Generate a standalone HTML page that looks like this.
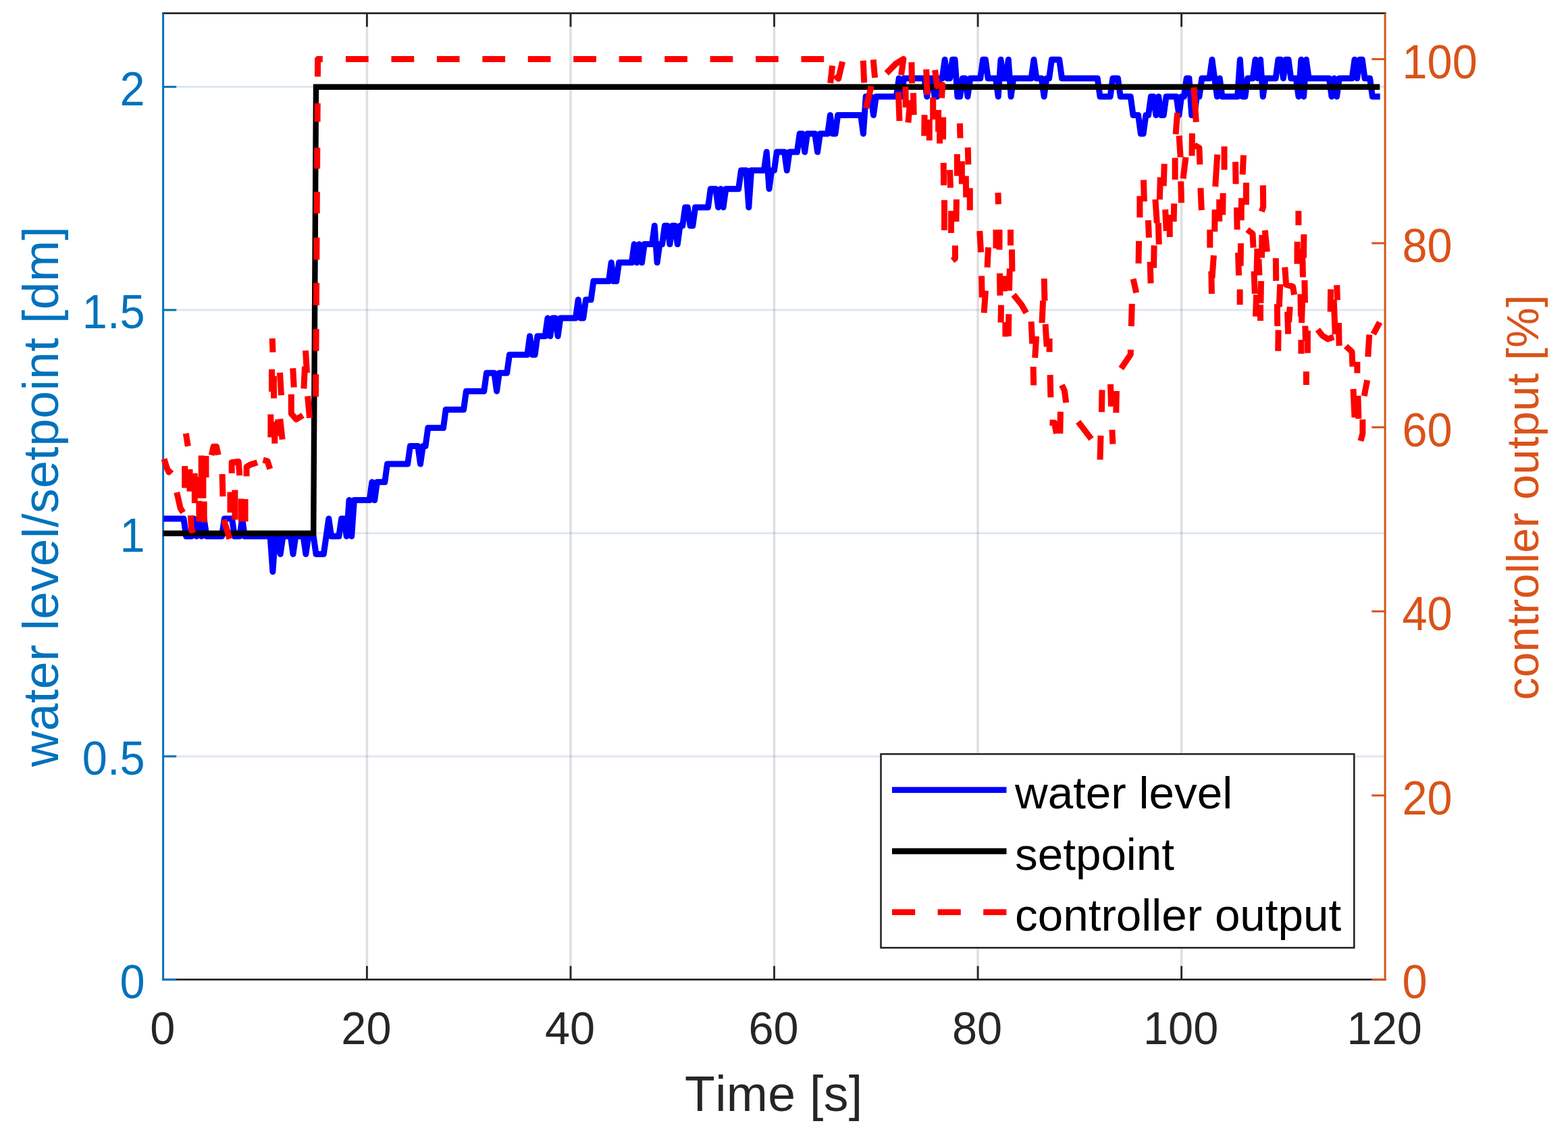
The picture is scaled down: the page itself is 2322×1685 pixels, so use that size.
<!DOCTYPE html>
<html lang="en"><head><meta charset="utf-8"><title>Water level control</title>
<style>html,body{margin:0;padding:0;background:#fff;}body{width:2322px;height:1685px;overflow:hidden;}svg{display:block;}text{font-family:"Liberation Sans",sans-serif;font-kerning:none;}</style></head><body>
<svg width="2322" height="1685" viewBox="0 0 2322 1685">
<rect width="2322" height="1685" fill="#fff"/>
<g stroke="#262626" stroke-opacity="0.14" stroke-width="3.5">
<line x1="543.4" y1="19.7" x2="543.4" y2="1450.3"/>
<line x1="845.0" y1="19.7" x2="845.0" y2="1450.3"/>
<line x1="1146.5" y1="19.7" x2="1146.5" y2="1450.3"/>
<line x1="1448.1" y1="19.7" x2="1448.1" y2="1450.3"/>
<line x1="1749.6" y1="19.7" x2="1749.6" y2="1450.3"/>
</g>
<g stroke="#165a9e" stroke-opacity="0.14" stroke-width="3.0">
<line x1="241.9" y1="1119.9" x2="2051.2" y2="1119.9"/>
<line x1="241.9" y1="789.4" x2="2051.2" y2="789.4"/>
<line x1="241.9" y1="459.0" x2="2051.2" y2="459.0"/>
<line x1="241.9" y1="128.6" x2="2051.2" y2="128.6"/>
</g>
<g stroke="#262626" stroke-width="2.8" fill="none">
<line x1="240.1" y1="19.7" x2="2052.6" y2="19.7"/>
<line x1="240.1" y1="1450.3" x2="2052.6" y2="1450.3"/>
<line x1="543.4" y1="1450.3" x2="543.4" y2="1430.3"/>
<line x1="543.4" y1="19.7" x2="543.4" y2="39.7"/>
<line x1="845.0" y1="1450.3" x2="845.0" y2="1430.3"/>
<line x1="845.0" y1="19.7" x2="845.0" y2="39.7"/>
<line x1="1146.5" y1="1450.3" x2="1146.5" y2="1430.3"/>
<line x1="1146.5" y1="19.7" x2="1146.5" y2="39.7"/>
<line x1="1448.1" y1="1450.3" x2="1448.1" y2="1430.3"/>
<line x1="1448.1" y1="19.7" x2="1448.1" y2="39.7"/>
<line x1="1749.6" y1="1450.3" x2="1749.6" y2="1430.3"/>
<line x1="1749.6" y1="19.7" x2="1749.6" y2="39.7"/>
</g>
<g stroke="#0072BD" stroke-width="3" fill="none">
<line x1="241.6" y1="19.7" x2="241.6" y2="1451.7"/>
<line x1="241.6" y1="1450.3" x2="261.2" y2="1450.3"/>
<line x1="241.6" y1="1119.9" x2="261.2" y2="1119.9"/>
<line x1="241.6" y1="789.4" x2="261.2" y2="789.4"/>
<line x1="241.6" y1="459.0" x2="261.2" y2="459.0"/>
<line x1="241.6" y1="128.6" x2="261.2" y2="128.6"/>
</g>
<g stroke="#D95319" stroke-width="3" fill="none">
<line x1="2051.1" y1="19.7" x2="2051.1" y2="1451.7"/>
<line x1="2051.1" y1="1450.3" x2="2031.3" y2="1450.3"/>
<line x1="2051.1" y1="1177.8" x2="2031.3" y2="1177.8"/>
<line x1="2051.1" y1="905.2" x2="2031.3" y2="905.2"/>
<line x1="2051.1" y1="632.7" x2="2031.3" y2="632.7"/>
<line x1="2051.1" y1="360.1" x2="2031.3" y2="360.1"/>
<line x1="2051.1" y1="87.6" x2="2031.3" y2="87.6"/>
</g>
<g fill="none" stroke-linejoin="round" stroke-width="9">
<path d="M241.8 768.0 L245.6 768.0 L249.3 768.0 L253.1 768.0 L256.9 768.0 L260.6 768.0 L264.4 768.0 L268.2 768.0 L272.0 768.0 L275.7 794.0 L279.5 794.0 L283.3 794.0 L287.0 768.0 L290.8 794.0 L294.6 768.0 L298.3 794.0 L302.1 768.0 L305.9 794.0 L309.7 794.0 L313.4 794.0 L317.2 794.0 L321.0 794.0 L324.7 794.0 L328.5 794.0 L332.3 768.0 L336.0 768.0 L339.8 768.0 L343.6 768.0 L347.3 794.0 L351.1 794.0 L354.9 794.0 L358.7 768.0 L362.4 794.0 L366.2 794.0 L370.0 794.0 L373.7 794.0 L377.5 794.0 L381.3 794.0 L385.0 794.0 L388.8 794.0 L392.6 794.0 L396.4 794.0 L400.1 794.0 L403.9 846.5 L407.7 794.0 L411.4 794.0 L415.2 820.4 L419.0 794.0 L422.7 794.0 L426.5 794.0 L430.3 794.0 L434.0 820.4 L437.8 794.0 L441.6 794.0 L445.4 794.0 L449.1 794.0 L452.9 820.4 L456.7 794.0 L460.4 794.0 L464.2 794.0 L468.0 820.4 L471.7 820.4 L475.5 820.4 L479.3 820.4 L483.1 794.0 L486.8 768.0 L490.6 794.0 L494.4 794.0 L498.1 794.0 L501.9 794.0 L505.7 768.0 L509.4 768.0 L513.2 794.0 L517.0 740.6 L520.7 794.0 L524.5 740.6 L528.3 740.6 L532.1 740.6 L535.8 740.6 L539.6 740.6 L543.4 740.6 L547.1 740.6 L550.9 713.8 L554.7 740.6 L558.4 713.8 L562.2 713.8 L566.0 713.8 L569.8 713.8 L573.5 687.0 L577.3 687.0 L581.1 687.0 L584.8 687.0 L588.6 687.0 L592.4 687.0 L596.1 687.0 L599.9 687.0 L603.7 687.0 L607.4 660.5 L611.2 660.5 L615.0 660.5 L618.8 660.5 L622.5 687.0 L626.3 660.5 L630.1 660.5 L633.8 633.6 L637.6 633.6 L641.4 633.6 L645.1 633.6 L648.9 633.6 L652.7 633.6 L656.5 633.6 L660.2 606.4 L664.0 606.4 L667.8 606.4 L671.5 606.4 L675.3 606.4 L679.1 606.4 L682.8 606.4 L686.6 606.4 L690.4 579.2 L694.2 579.2 L697.9 579.2 L701.7 579.2 L705.5 579.2 L709.2 579.2 L713.0 579.2 L716.8 579.2 L720.5 552.2 L724.3 552.2 L728.1 552.2 L731.8 552.2 L735.6 579.2 L739.4 552.2 L743.2 552.2 L746.9 552.2 L750.7 552.2 L754.5 525.2 L758.2 525.2 L762.0 525.2 L765.8 525.2 L769.5 525.2 L773.3 525.2 L777.1 525.2 L780.9 525.2 L784.6 497.7 L788.4 525.2 L792.2 525.2 L795.9 497.7 L799.7 497.7 L803.5 497.7 L807.2 497.7 L811.0 471.0 L814.8 497.7 L818.5 471.0 L822.3 471.0 L826.1 497.7 L829.9 471.0 L833.6 471.0 L837.4 471.0 L841.2 471.0 L844.9 471.0 L848.7 471.0 L852.5 471.0 L856.2 443.8 L860.0 471.0 L863.8 471.0 L867.6 443.8 L871.3 443.8 L875.1 443.8 L878.9 416.3 L882.6 416.3 L886.4 416.3 L890.2 416.3 L893.9 416.3 L897.7 416.3 L901.5 416.3 L905.2 388.8 L909.0 416.3 L912.8 416.3 L916.6 388.8 L920.3 388.8 L924.1 388.8 L927.9 388.8 L931.6 388.8 L935.4 388.8 L939.2 361.6 L942.9 388.8 L946.7 361.6 L950.5 388.8 L954.3 361.6 L958.0 361.6 L961.8 361.6 L965.6 361.6 L969.3 334.2 L973.1 388.8 L976.9 361.6 L980.6 361.6 L984.4 334.2 L988.2 334.2 L991.9 361.6 L995.7 334.2 L999.5 334.2 L1003.3 361.6 L1007.0 334.2 L1010.8 334.2 L1014.6 307.0 L1018.3 307.0 L1022.1 334.2 L1025.9 334.2 L1029.6 307.0 L1033.4 307.0 L1037.2 307.0 L1041.0 307.0 L1044.7 307.0 L1048.5 307.0 L1052.3 279.7 L1056.0 279.7 L1059.8 279.7 L1063.6 307.0 L1067.3 279.7 L1071.1 307.0 L1074.9 279.7 L1078.6 279.7 L1082.4 279.7 L1086.2 279.7 L1090.0 279.7 L1093.7 279.7 L1097.5 252.3 L1101.3 252.3 L1105.0 252.3 L1108.8 307.0 L1112.6 252.3 L1116.3 252.3 L1120.1 252.3 L1123.9 252.3 L1127.7 252.3 L1131.4 252.3 L1135.2 225.0 L1139.0 279.7 L1142.7 252.3 L1146.5 252.3 L1150.3 225.0 L1154.0 225.0 L1157.8 225.0 L1161.6 225.0 L1165.3 252.3 L1169.1 225.0 L1172.9 225.0 L1176.7 225.0 L1180.4 225.0 L1184.2 198.0 L1188.0 198.0 L1191.7 225.0 L1195.5 198.0 L1199.3 198.0 L1203.0 198.0 L1206.8 198.0 L1210.6 225.0 L1214.4 198.0 L1218.1 198.0 L1221.9 198.0 L1225.7 198.0 L1229.4 170.5 L1233.2 198.0 L1237.0 198.0 L1240.7 170.5 L1244.5 170.5 L1248.3 170.5 L1252.0 170.5 L1255.8 170.5 L1259.6 170.5 L1263.4 170.5 L1267.1 170.5 L1270.9 170.5 L1274.7 170.5 L1278.4 198.0 L1282.2 143.0 L1286.0 143.0 L1289.7 143.0 L1293.5 170.5 L1297.3 143.0 L1301.1 143.0 L1304.8 143.0 L1308.6 143.0 L1312.4 143.0 L1316.1 143.0 L1319.9 143.0 L1323.7 143.0 L1327.4 143.0 L1331.2 115.9 L1335.0 143.0 L1338.7 115.9 L1342.5 115.9 L1346.3 115.9 L1350.1 115.9 L1353.8 115.9 L1357.6 115.9 L1361.4 115.9 L1365.1 115.9 L1368.9 115.9 L1372.7 143.0 L1376.4 115.9 L1380.2 115.9 L1384.0 143.0 L1387.8 143.0 L1391.5 115.9 L1395.3 115.9 L1399.1 88.3 L1402.8 115.9 L1406.6 115.9 L1410.4 88.3 L1414.1 88.3 L1417.9 143.0 L1421.7 143.0 L1425.4 115.9 L1429.2 115.9 L1433.0 143.0 L1436.8 115.9 L1440.5 115.9 L1444.3 115.9 L1448.1 115.9 L1451.8 115.9 L1455.6 88.3 L1459.4 88.3 L1463.1 115.9 L1466.9 115.9 L1470.7 115.9 L1474.5 115.9 L1478.2 143.0 L1482.0 88.3 L1485.8 115.9 L1489.5 115.9 L1493.3 88.3 L1497.1 143.0 L1500.8 115.9 L1504.6 115.9 L1508.4 115.9 L1512.1 115.9 L1515.9 115.9 L1519.7 115.9 L1523.5 115.9 L1527.2 115.9 L1531.0 88.3 L1534.8 115.9 L1538.5 115.9 L1542.3 115.9 L1546.1 143.0 L1549.8 115.9 L1553.6 115.9 L1557.4 88.3 L1561.2 88.3 L1564.9 88.3 L1568.7 88.3 L1572.5 115.9 L1576.2 115.9 L1580.0 115.9 L1583.8 115.9 L1587.5 115.9 L1591.3 115.9 L1595.1 115.9 L1598.9 115.9 L1602.6 115.9 L1606.4 115.9 L1610.2 115.9 L1613.9 115.9 L1617.7 115.9 L1621.5 115.9 L1625.2 115.9 L1629.0 143.0 L1632.8 143.0 L1636.5 143.0 L1640.3 143.0 L1644.1 143.0 L1647.9 115.9 L1651.6 115.9 L1655.4 115.9 L1659.2 143.0 L1662.9 143.0 L1666.7 143.0 L1670.5 143.0 L1674.2 143.0 L1678.0 170.5 L1681.8 170.5 L1685.6 170.5 L1689.3 198.0 L1693.1 198.0 L1696.9 170.5 L1700.6 170.5 L1704.4 143.0 L1708.2 143.0 L1711.9 170.5 L1715.7 143.0 L1719.5 170.5 L1723.2 170.5 L1727.0 143.0 L1730.8 143.0 L1734.6 143.0 L1738.3 143.0 L1742.1 143.0 L1745.9 170.5 L1749.6 143.0 L1753.4 143.0 L1757.2 115.9 L1760.9 115.9 L1764.7 170.5 L1768.5 170.5 L1772.3 143.0 L1776.0 143.0 L1779.8 115.9 L1783.6 115.9 L1787.3 115.9 L1791.1 115.9 L1794.9 88.3 L1798.6 115.9 L1802.4 143.0 L1806.2 115.9 L1809.9 143.0 L1813.7 143.0 L1817.5 143.0 L1821.3 143.0 L1825.0 143.0 L1828.8 143.0 L1832.6 143.0 L1836.3 88.3 L1840.1 143.0 L1843.9 143.0 L1847.6 115.9 L1851.4 115.9 L1855.2 115.9 L1859.0 88.3 L1862.7 115.9 L1866.5 88.3 L1870.3 143.0 L1874.0 115.9 L1877.8 115.9 L1881.6 115.9 L1885.3 115.9 L1889.1 115.9 L1892.9 88.3 L1896.6 88.3 L1900.4 115.9 L1904.2 88.3 L1908.0 88.3 L1911.7 115.9 L1915.5 115.9 L1919.3 115.9 L1923.0 143.0 L1926.8 88.3 L1930.6 143.0 L1934.3 88.3 L1938.1 115.9 L1941.9 115.9 L1945.7 115.9 L1949.4 115.9 L1953.2 115.9 L1957.0 115.9 L1960.7 115.9 L1964.5 115.9 L1968.3 115.9 L1972.0 143.0 L1975.8 115.9 L1979.6 143.0 L1983.3 115.9 L1987.1 115.9 L1990.9 115.9 L1994.7 115.9 L1998.4 115.9 L2002.2 115.9 L2006.0 88.3 L2009.7 115.9 L2013.5 88.3 L2017.3 88.3 L2021.0 115.9 L2024.8 115.9 L2028.6 115.9 L2032.4 143.0 L2036.1 143.0 L2039.9 143.0 L2043.7 143.0" stroke="#0000ff"/>
<path d="M241.5 789.7 L464.2 789.7 L468.0 128.8 L2043.3 128.8" stroke="#000000" stroke-linejoin="miter" stroke-width="8.4"/>
<path d="M243.0 679.5 L246.6 691.4 L249.9 699.1 L253.8 694.7 M275.3 641.7 L278.3 660.7 M313.2 673.9 L316.1 661.2 L320.5 661.2 L323.2 673.6 M273.7 690.1 L273.7 722.5 M281.0 694.7 L281.0 727.8 M288.3 700.7 L288.3 745.0 M296.2 706.0 L296.2 737.7 M300.9 706.0 L300.9 737.7 M298.2 674.4 L298.2 707.3 M305.0 675.0 L305.0 707.0 M294.9 741.7 L294.9 772.2 M302.2 742.4 L302.2 773.5 M261.8 729.1 L267.1 752.3 L271.1 758.9 M329.1 702.0 L330.0 735.1 M341.0 728.5 L341.0 758.9 M347.9 725.6 L347.9 769.5 M357.2 738.4 L357.2 772.2 M363.1 739.1 L363.1 772.2 M343.2 700.7 L343.2 684.8 L353.2 683.4 L354.8 704.0 M365.1 705.3 L365.1 691.4 L370.4 688.1 L381.0 684.8 M389.6 681.1 L396.2 682.8 L399.8 694.3 M282.3 763.2 L283.6 785.4 L288.3 783.4 M331.3 769.5 L336.0 784.1 L339.9 798.0 M403.2 501.1 L404.0 521.6 M402.5 546.8 L402.5 579.9 M405.5 556.7 L405.5 589.8 M414.5 551.7 L416.5 585.2 M433.7 545.2 L435.3 573.6 M452.5 518.9 L454.5 552.1 M451.5 542.8 L449.9 575.5 M431.3 583.8 L431.3 612.3 L438.6 620.9 L448.5 615.0 M455.6 586.5 L458.5 618.9 M400.9 613.6 L400.9 647.4 M406.8 624.2 L406.8 656.7 M414.8 620.3 L418.1 650.7 M411.7 620.9 L412.5 645.4 M470.2 153.0 L470.0 180.4 M469.8 218.7 L469.6 249.6 M469.4 284.0 L469.2 316.0 M469.0 351.7 L468.8 384.5 M468.6 419.0 L468.4 452.0 M468.2 487.2 L468.0 519.6 M467.8 554.3 L467.6 587.4 M470.4 113.5 L470.6 87.6 L477.8 87.6 M512.0 87.6 L545.7 87.6 M579.5 87.6 L613.2 87.6 M646.9 87.6 L680.6 87.6 M714.4 87.6 L748.1 87.6 M781.8 87.6 L815.5 87.6 M849.2 87.6 L883.0 87.6 M916.7 87.6 L950.4 87.6 M984.2 87.6 L1017.9 87.6 M1051.6 87.6 L1085.3 87.6 M1119.1 87.6 L1152.8 87.6 M1186.5 87.6 L1220.2 87.6 M1229.7 123.0 L1232.6 97.2 M1236.6 111.5 L1241.6 116.5 L1247.6 91.3 M1278.3 89.7 L1279.7 122.5 M1293.2 88.3 L1295.6 115.1 M1290.3 127.4 L1282.3 160.2 M1312.7 108.5 L1327.0 94.0 L1337.9 87.3 L1334.6 111.1 M1349.9 92.1 L1350.5 123.4 M1371.7 102.6 L1373.1 140.3 M1384.6 103.6 L1387.6 127.4 L1395.6 125.4 L1394.6 145.3 M1330.4 136.4 L1332.0 179.1 M1340.9 128.4 L1341.3 159.2 M1347.9 148.3 L1344.9 181.5 M1352.5 137.7 L1353.2 170.1 M1381.7 144.3 L1381.7 177.1 M1369.1 170.1 L1368.7 201.3 M1376.3 177.1 L1376.3 207.9 M1389.6 162.8 L1389.6 195.0 M1396.6 173.5 L1396.6 206.5 M1391.6 195.0 L1391.6 212.5 M1421.4 182.6 L1422.0 204.5 M1433.3 218.4 L1433.9 243.6 M1417.4 228.3 L1417.4 260.5 M1424.4 238.7 L1424.4 272.5 M1430.3 260.5 L1430.7 292.3 M1436.3 278.4 L1436.3 311.2 M1397.2 241.1 L1397.6 274.4 M1406.5 251.6 L1407.5 278.0 M1478.0 285.4 L1478.4 302.3 M1398.5 296.3 L1398.5 341.0 M1408.5 312.2 L1408.5 345.0 M1416.4 295.3 L1416.0 328.1 M1767.9 129.4 L1771.3 180.7 M1743.5 167.2 L1741.1 198.9 M1746.1 200.9 L1748.1 232.7 M1765.4 197.4 L1765.0 230.7 M1768.9 214.8 L1775.9 218.8 L1776.9 243.6 M1740.1 233.7 L1740.1 266.1 M1756.0 232.7 L1752.1 264.5 M1813.0 216.8 L1813.0 251.6 M1802.7 228.7 L1799.7 276.4 M1829.5 239.7 L1830.1 272.5 M1841.5 229.7 L1840.1 258.5 M1693.4 266.5 L1694.4 298.3 M1687.9 290.3 L1687.9 322.1 M1724.2 242.7 L1723.2 275.4 M1718.3 262.5 L1717.3 295.3 M1710.9 295.3 L1713.3 330.1 M1748.7 268.5 L1749.5 300.3 M1738.7 301.3 L1738.1 328.1 M1725.6 310.2 L1727.2 342.0 M1732.2 318.1 L1732.2 350.9 M1777.9 278.4 L1779.3 311.2 M1811.1 286.0 L1810.7 318.1 M1805.7 295.3 L1805.7 328.1 M1799.1 310.2 L1798.7 343.0 M1845.4 270.5 L1845.4 303.2 M1838.5 293.3 L1838.1 326.1 M1831.5 307.2 L1832.1 340.0 M1870.3 274.4 L1870.7 306.2 L1868.3 313.2 M1922.9 312.2 L1922.9 333.6 M1700.4 326.1 L1701.4 351.9 M1715.3 330.1 L1716.3 361.9 M1414.4 363.4 L1414.4 382.7 L1410.5 385.7 M1450.8 342.0 L1452.6 373.4 M1475.0 340.0 L1475.0 367.8 M1480.0 340.0 L1480.0 369.8 M1496.5 340.0 L1496.5 363.4 M1463.5 366.2 L1462.1 396.0 M1498.5 369.4 L1498.9 402.0 M1495.3 397.6 L1494.5 430.4 M1480.4 404.6 L1481.0 437.7 M1487.0 408.5 L1487.4 431.4 M1453.6 408.5 L1454.2 440.3 M1459.5 430.4 L1457.2 463.2 M1482.6 451.7 L1482.0 477.5 M1488.9 477.1 L1488.9 498.5 M1493.9 465.2 L1493.3 497.9 M1500.9 436.4 L1512.8 451.3 L1519.7 463.2 M1546.2 412.5 L1547.0 445.3 M1544.6 445.3 L1543.0 478.1 M1527.1 476.1 L1528.7 508.9 M1534.6 497.9 L1532.7 529.7 M1548.1 480.1 L1550.1 513.2 M1554.1 501.3 L1554.1 521.2 M1530.1 543.0 L1530.7 570.5 M1555.1 555.2 L1555.9 588.3 M1572.4 570.1 L1576.4 578.4 L1578.7 596.3 M1570.4 609.6 L1569.8 642.0 M1554.5 625.7 L1561.5 626.1 L1564.4 642.0 M1596.6 624.5 L1616.1 649.9 M1632.0 577.4 L1631.4 610.2 M1644.5 568.9 L1645.5 601.9 M1653.4 578.8 L1652.8 611.2 M1630.0 645.0 L1629.0 680.7 M1646.9 636.4 L1647.9 657.5 M1674.3 517.8 L1674.3 524.8 L1660.2 545.6 M1676.3 449.9 L1675.3 483.0 M1678.1 413.1 L1682.7 433.4 M1686.6 356.9 L1686.0 390.1 M1709.1 363.4 L1708.5 396.6 M1703.1 387.7 L1704.1 419.5 M1791.8 340.0 L1791.8 366.8 M1797.4 378.1 L1795.0 411.5 M1793.8 401.6 L1794.4 435.0 M1837.5 360.3 L1837.1 393.6 M1833.5 374.2 L1834.5 407.9 M1836.1 428.4 L1836.1 451.3 M1847.0 340.0 L1855.0 346.0 L1856.0 366.8 M1873.2 341.0 L1876.4 372.8 M1868.9 347.9 L1868.5 381.7 M1861.9 368.2 L1860.9 407.6 M1863.9 383.7 L1864.9 407.6 M1857.0 401.6 L1858.3 435.0 M1867.5 416.1 L1866.9 448.9 M1860.5 436.4 L1859.5 468.7 M1866.5 451.3 L1866.5 475.1 M1889.3 382.3 L1889.7 415.9 M1895.7 420.9 L1894.3 454.2 M1891.3 450.3 L1891.7 483.0 M1893.1 488.6 L1892.7 519.8 M1902.7 395.6 L1904.6 421.5 L1914.6 424.4 L1916.6 436.4 M1910.2 454.2 L1908.6 477.1 M1906.6 461.6 L1907.6 494.6 M1930.9 347.0 L1930.5 381.7 M1921.1 357.9 L1920.9 390.7 M1928.5 367.8 L1929.5 410.5 M1931.9 414.9 L1932.5 448.3 M1925.9 435.4 L1926.5 468.7 M1928.5 448.3 L1927.5 478.1 M1932.8 482.5 L1933.4 504.9 M1936.4 489.4 L1936.4 522.8 M1926.9 503.3 L1926.9 523.8 M1934.4 550.0 L1934.4 569.9 M1979.7 422.1 L1980.5 444.3 M1970.6 428.4 L1970.2 461.6 M1975.2 443.3 L1977.2 495.0 M1982.5 478.1 L1983.1 511.9 M1951.3 488.0 L1958.3 497.0 L1966.2 501.9 L1975.2 498.9 M1993.0 512.5 L2002.0 520.8 L2003.0 542.7 M2009.9 535.7 L2009.9 552.6 M2043.1 477.1 L2033.8 494.6 M2027.8 495.4 L2025.8 528.3 M2024.8 562.9 L2022.8 572.5 L2020.3 586.4 M2004.0 576.0 L2006.0 618.1 M2010.9 586.0 L2011.9 620.1 M2017.9 621.1 L2017.9 642.0 L2014.9 652.9" stroke="#ff0000"/>
</g>
<text transform="translate(240.9,1546.3) scale(1,1.040)" font-size="66.67" fill="#262626" text-anchor="middle">0</text>
<text transform="translate(542.4,1546.3) scale(1,1.040)" font-size="66.67" fill="#262626" text-anchor="middle">20</text>
<text transform="translate(844.0,1546.3) scale(1,1.040)" font-size="66.67" fill="#262626" text-anchor="middle">40</text>
<text transform="translate(1145.5,1546.3) scale(1,1.040)" font-size="66.67" fill="#262626" text-anchor="middle">60</text>
<text transform="translate(1447.1,1546.3) scale(1,1.040)" font-size="66.67" fill="#262626" text-anchor="middle">80</text>
<text transform="translate(1748.6,1546.3) scale(1,1.040)" font-size="66.67" fill="#262626" text-anchor="middle">100</text>
<text transform="translate(2050.2,1546.3) scale(1,1.040)" font-size="66.67" fill="#262626" text-anchor="middle">120</text>
<text transform="translate(214.5,1477.9) scale(1,1.062)" font-size="66.67" fill="#0072BD" text-anchor="end">0</text>
<text transform="translate(214.5,1147.1) scale(1,1.062)" font-size="66.67" fill="#0072BD" text-anchor="end">0.5</text>
<text transform="translate(214.5,816.6) scale(1,1.062)" font-size="66.67" fill="#0072BD" text-anchor="end">1</text>
<text transform="translate(214.5,486.2) scale(1,1.062)" font-size="66.67" fill="#0072BD" text-anchor="end">1.5</text>
<text transform="translate(214.5,155.8) scale(1,1.062)" font-size="66.67" fill="#0072BD" text-anchor="end">2</text>
<text transform="translate(2076.5,1478.2) scale(1,1.065)" font-size="66.67" fill="#D95319" text-anchor="start">0</text>
<text transform="translate(2076.5,1205.7) scale(1,1.065)" font-size="66.67" fill="#D95319" text-anchor="start">20</text>
<text transform="translate(2076.5,933.1) scale(1,1.065)" font-size="66.67" fill="#D95319" text-anchor="start">40</text>
<text transform="translate(2076.5,660.6) scale(1,1.065)" font-size="66.67" fill="#D95319" text-anchor="start">60</text>
<text transform="translate(2076.5,388.0) scale(1,1.065)" font-size="66.67" fill="#D95319" text-anchor="start">80</text>
<text transform="translate(2076.5,115.5) scale(1,1.065)" font-size="66.67" fill="#D95319" text-anchor="start">100</text>
<text x="1145.8" y="1644.8" font-size="73.33" fill="#262626" text-anchor="middle" letter-spacing="0.36">Time [s]</text>
<text transform="translate(86,735.2) rotate(-90)" font-size="73.33" fill="#0072BD" text-anchor="middle" letter-spacing="0.40">water level/setpoint [dm]</text>
<text transform="translate(2278,736.3) rotate(-90)" font-size="66.67" fill="#D95319" text-anchor="middle" letter-spacing="0.35">controller output [%]</text>
<rect x="1304.5" y="1116.5" width="700.8" height="286.8" fill="#fff" stroke="#262626" stroke-width="2.6"/>
<g fill="none" stroke-width="8.8">
<line x1="1321" y1="1169.6" x2="1490.5" y2="1169.6" stroke="#0000ff"/>
<line x1="1321" y1="1260.3" x2="1490.5" y2="1260.3" stroke="#000"/>
<line x1="1321" y1="1350.7" x2="1490.5" y2="1350.7" stroke="#ff0000" stroke-dasharray="34.2 33.4"/>
</g>
<g font-size="67.4" fill="#000">
<text x="1503" y="1196.8">water level</text>
<text x="1503" y="1287.6">setpoint</text>
<text x="1503" y="1377.6">controller output</text>
</g>
</svg></body></html>
